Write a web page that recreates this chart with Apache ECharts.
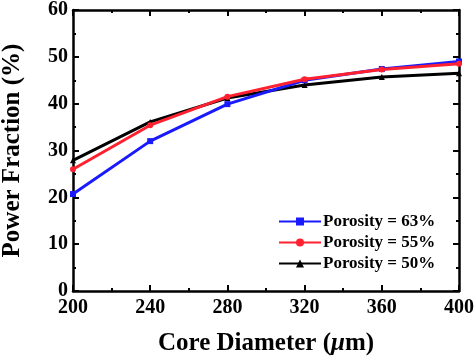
<!DOCTYPE html>
<html><head><meta charset="utf-8">
<script src="https://cdn.jsdelivr.net/npm/echarts@6/dist/echarts.min.js"></script>
<style>html,body{margin:0;padding:0;background:#fff}#c{width:474px;height:357px}</style>
</head><body><div id="c"></div>
<script>
const coreDiameter = [200, 240, 280, 320, 360, 400];
const porosity63 = [20.7, 32.0, 39.9, 45.0, 47.4, 49.0];
const porosity55 = [26.0, 35.4, 41.5, 45.2, 47.3, 48.5];
const porosity50 = [27.9, 36.1, 41.2, 44.0, 45.7, 46.5];
const seriesNames = ['Porosity = 63%', 'Porosity = 55%', 'Porosity = 50%'];

const font = 'Liberation Serif';
const chart = echarts.init(document.getElementById('c'));
function zip(v){ return coreDiameter.map((x,i)=>[x,v[i]]); }
function axisBase(){ return {
  axisLine:{show:true,onZero:false,lineStyle:{color:'#000',width:2.5}},
  axisTick:{show:true,inside:true,length:6,lineStyle:{color:'#000',width:2}},
  minorTick:{show:true,splitNumber:2,length:3,lineStyle:{color:'#000',width:2}},
  splitLine:{show:false}
};}
const titleStyle = {fontFamily:font,fontWeight:'bold',fontSize:25,color:'#000'};
chart.setOption({
  animation:false,
  grid:{left:73,right:15,top:10,bottom:66,containLabel:false,outerBoundsMode:'none'},
  xAxis:[
    Object.assign({type:'value',min:200,max:400,interval:40,position:'bottom',
      name:'{a|Core Diameter (}{b|\u03BC}{a|m)}',nameLocation:'middle',nameGap:40,
      nameTextStyle:{rich:{a:titleStyle,b:Object.assign({},titleStyle,{fontStyle:'italic'})}},
      axisLabel:{fontFamily:font,fontWeight:'bold',fontSize:20,color:'#000',margin:7}},axisBase()),
    Object.assign({type:'value',min:200,max:400,interval:40,position:'top',axisLabel:{show:false}},axisBase())
  ],
  yAxis:[
    Object.assign({type:'value',min:0,max:60,interval:10,position:'left',
      name:'Power Fraction (%)',nameLocation:'middle',nameGap:48,
      nameTextStyle:titleStyle,
      axisLabel:{fontFamily:font,fontWeight:'bold',fontSize:20,color:'#000',margin:5}},axisBase()),
    Object.assign({type:'value',min:0,max:60,interval:10,position:'right',axisLabel:{show:false}},axisBase())
  ],
  legend:{
    left:273,top:208,orient:'vertical',itemWidth:42,itemHeight:10,itemGap:4,
    textStyle:{fontFamily:font,fontWeight:'bold',fontSize:17,color:'#000',padding:[0,0,0,-3]},
    data:seriesNames
  },
  series:[
    {name:seriesNames[0],type:'line',data:zip(porosity63),symbol:'rect',symbolSize:6,
      lineStyle:{color:'#1a1aff',width:3},itemStyle:{color:'#1a1aff'},z:3},
    {name:seriesNames[1],type:'line',data:zip(porosity55),symbol:'circle',symbolSize:6,
      lineStyle:{color:'#ff2030',width:3},itemStyle:{color:'#ff2030'},z:4},
    {name:seriesNames[2],type:'line',data:zip(porosity50),symbol:'triangle',symbolSize:6,
      lineStyle:{color:'#000',width:3},itemStyle:{color:'#000'},z:2}
  ]
});
</script></body></html>
